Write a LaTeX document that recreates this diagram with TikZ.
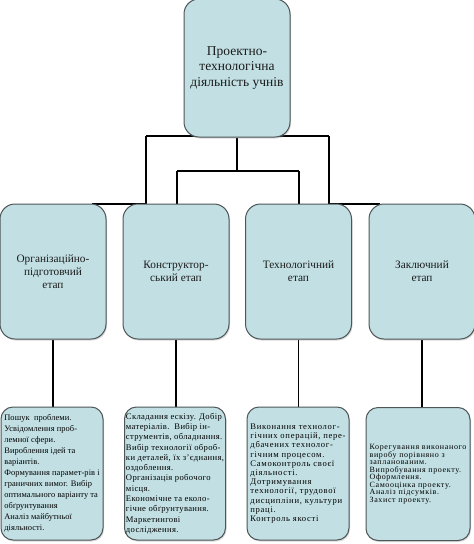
\documentclass[tikz,border=0pt]{standalone}
\usepackage{fontspec}
\setmainfont{Liberation Serif}
\usetikzlibrary{shadows,backgrounds}
\definecolor{boxfill}{HTML}{C2E0E4}
\definecolor{boxline}{HTML}{4D5557}
\definecolor{txt}{HTML}{1A1A1A}
\tikzset{
  box/.style={rectangle, rounded corners=15pt, fill=boxfill, draw=boxline, line width=1pt,
    align=center, text=txt, inner sep=1pt,
    drop shadow={shadow xshift=1pt, shadow yshift=-1.5pt, opacity=0.3}},
  topbox/.style={box, minimum width=106pt, minimum height=138pt,
    font=\fontsize{13.5}{15.5}\selectfont},
  stagebox/.style={box, minimum width=106pt, minimum height=135pt,
    font=\fontsize{11.3}{12.8}\selectfont},
  detailbox/.style={box, rounded corners=12pt, minimum height=133pt, align=left, text=black},
  conn/.style={draw=black, line width=1.6pt}
}
\begin{document}
\begin{tikzpicture}[x=1pt,y=-1pt]
\useasboundingbox (0,0) rectangle (474,544);
\clip (0,0) rectangle (474,544);
\coordinate (j) at (237,171);
\coordinate (jl) at (177,171);
\coordinate (jr) at (299,171);
\coordinate (ol) at (146,136);
\coordinate (or) at (329,136);
\coordinate (el) at (92,204);
\coordinate (er) at (380,204);
% top
\node[topbox] (top) at (237,68) {Проектно-\\технологічна\\діяльність учнів};
% stages
\node[stagebox] (s1) at (53,271.5) {Організаційно-\\підготовчий\\етап};
\node[stagebox] (s2) at (176,271.5) {Конструктор-\\ський етап};
\node[stagebox] (s3) at (298.5,271.5) {Технологічний\\етап};
\node[stagebox] (s4) at (422,271.5) {Заключний\\етап};
% details
\node[detailbox, minimum width=102pt, font=\fontsize{8.4}{11}\selectfont\addfontfeature{LetterSpace=1}] (d1) at (52,473.5) {Пошук\ \ проблеми.\\Усвідомлення проб-\\лемної сфери.\\Вироблення ідей та\\варіантів.\\Формування парамет-рів і\\граничних вимог. Вибір\\оптимального варіанту та\\обґрунтування\\Аналіз майбутньої\\діяльності.};
\node[detailbox, minimum width=101pt, font=\fontsize{8.6}{10.3}\selectfont\addfontfeature{LetterSpace=4}] (d2) at (175,473.5) {Складання ескізу. Добір\\матеріалів.\ \ Вибір ін-\\струментів, обладнання.\\Вибір технології оброб-\\ки деталей, їх з'єднання,\\оздоблення.\\Організація робочого\\місця.\\Економічне та еколо-\\гічне обґрунтування.\\Маркетингові\\дослідження.};
\node[detailbox, minimum width=102pt, font=\fontsize{8.6}{9.2}\selectfont\addfontfeature{LetterSpace=8}] (d3) at (298,473.5) {Виконання технолог-\\гічних операцій, пере-\\дбачених технолог-\\гічним процесом.\\Самоконтроль своєї\\діяльності.\\Дотримування\\технології, трудової\\дисципліни, культури\\праці.\\Контроль якості};
\node[detailbox, minimum width=104pt, font=\fontsize{8}{7.5}\selectfont\addfontfeature{LetterSpace=8}] (d4) at (418,474) {Корегування виконаного\\виробу порівняно з\\запланованим.\\Випробування проекту.\\Оформлення.\\Самооцінка проекту.\\Аналіз підсумків.\\Захист проекту.};
% connectors behind boxes
\begin{pgfonlayer}{background}
\draw[conn] (top.south) -- (j);
\draw[conn] (jl) -- (jr);
\draw[conn] (jl) -- (jl |- s2.north);
\draw[conn] (jr) -- (jr |- s3.north);
\draw[conn] (ol) -- (or);
\draw[conn] (ol) |- (el);
\draw[conn] (or) |- (er);
\draw[conn] (s1.south) -- (s1.south |- d1.north);
\draw[conn] (s2.south) -- (s2.south |- d2.north);
\draw[conn] (s3.south) -- (s3.south |- d3.north);
\draw[conn] (s4.south) -- (s4.south |- d4.north);
\end{pgfonlayer}
\end{tikzpicture}
\end{document}
